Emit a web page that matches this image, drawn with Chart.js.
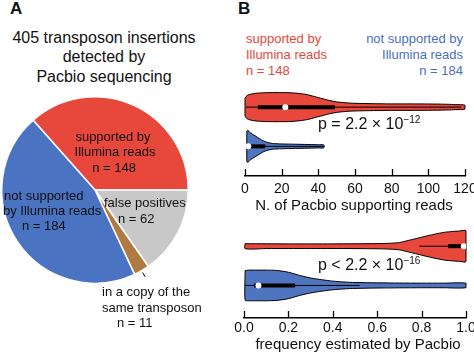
<!DOCTYPE html>
<html>
<head>
<meta charset="utf-8">
<title>Transposon insertions detected by Pacbio</title>
<script src="https://cdn.jsdelivr.net/npm/chart.js@4.4.1/dist/chart.umd.min.js"></script>
<style>
  body { margin: 0; width: 474px; height: 353px; overflow: hidden; background: #fff; position: relative;
         font-family: "Liberation Sans", Arial, Helvetica, sans-serif; color: #111; }
  canvas, .t { position: absolute; }
  .t { white-space: nowrap; line-height: 1; font-size: 13px; }
  .c { transform: translate(-50%, -50%); }
  .l { transform: translate(0, -50%); }
  .r { transform: translate(-100%, -50%); }
  .panel { font-weight: bold; font-size: 17px; }
  .title { font-size: 16px; }
  .axis { font-size: 15px; }
  .pval { font-size: 16px; }
  .pval sup { font-size: 10px; vertical-align: 6px; }
  .red { color: #e8473b; }
  .blue { color: #4a6fc0; }
</style>
</head>
<body>
<canvas id="pie" width="188" height="188" style="left:1px;top:96px"></canvas>
<canvas id="reads" width="260" height="118" style="left:230px;top:84px"></canvas>
<canvas id="freq" width="260" height="114" style="left:230px;top:224px"></canvas>

<div class="t l panel" style="left:10px;top:8px">A</div>
<div class="t l panel" style="left:238px;top:8px">B</div>

<div class="t c title" style="left:104px;top:38px">405 transposon insertions</div>
<div class="t c title" style="left:104px;top:57px">detected by</div>
<div class="t c title" style="left:104px;top:77px">Pacbio sequencing</div>

<div class="t c" style="left:113px;top:136px">supported by</div>
<div class="t c" style="left:115px;top:151px">Illumina reads</div>
<div class="t c" style="left:114px;top:167px">n = 148</div>
<div class="t l" style="left:4px;top:195px">not supported</div>
<div class="t l" style="left:3px;top:210px">by Illumina reads</div>
<div class="t l" style="left:22px;top:225px">n = 184</div>
<div class="t l" style="left:104px;top:202px">false positives</div>
<div class="t l" style="left:118px;top:218px">n = 62</div>
<div class="t l" style="left:102px;top:291px">in a copy of the</div>
<div class="t l" style="left:102px;top:307px">same transposon</div>
<div class="t l" style="left:117px;top:322px">n = 11</div>

<div class="t l red" style="left:246px;top:38px">supported by</div>
<div class="t l red" style="left:246px;top:54px">Illumina reads</div>
<div class="t l red" style="left:246px;top:70px">n = 148</div>
<div class="t r blue" style="left:463px;top:38px">not supported by</div>
<div class="t r blue" style="left:463px;top:54px">Illumina reads</div>
<div class="t r blue" style="left:463px;top:70px">n = 184</div>

<div class="t l pval" style="left:318px;top:123px">p = 2.2 × 10<sup>−12</sup></div>
<div class="t l pval" style="left:318px;top:264px">p &lt; 2.2 × 10<sup>−16</sup></div>

<div class="t c axis" style="left:354px;top:204px">N. of Pacbio supporting reads</div>
<div class="t c axis" style="left:358px;top:343px">frequency estimated by Pacbio</div>

<script>
// Panel A: the 405 insertions split by category
const pieCategories = ["supported by Illumina reads", "false positives", "in a copy of the same transposon", "not supported by Illumina reads"];
const pieCounts = [148, 62, 11, 184];
const pieColors = ["#e8473b", "#c8c8c8", "#b07a45", "#4a73c2"];

// Panel B, top: N. of Pacbio supporting reads
const readsTicks = [0, 20, 40, 60, 80, 100, 120];
const readsSupX = [0, 1, 3, 6, 10, 15, 20, 25, 30, 34, 38, 42, 46, 50, 55, 60, 70, 80, 90, 100, 110, 115, 120];
const readsSupDensity = [9, 12, 13.5, 14.5, 15, 15.2, 15.2, 15, 14.2, 13, 11, 9, 7, 5.5, 4.5, 4, 3.6, 3.4, 3.4, 3.3, 3, 2.6, 2];
const readsSupBox = [0.5, 7, 22, 49, 118]; // low, q1, median, q3, high
const readsNotX = [1, 1.5, 3, 5.5, 8, 10, 12.5, 15, 20, 25, 30, 35, 40, 43];
const readsNotDensity = [16, 16.7, 14, 11, 8, 5.7, 4, 3, 2.5, 2.3, 2.1, 1.9, 1.7, 1.5];
const readsNotBox = [1, 2, 1.8, 11, 43];

// Panel B, bottom: frequency estimated by Pacbio
const freqTicks = [0, 0.2, 0.4, 0.6, 0.8, 1.0];
const freqSupX = [0.005, 0.1, 0.2, 0.3, 0.4, 0.5, 0.6, 0.66, 0.7, 0.74, 0.78, 0.82, 0.86, 0.9, 0.94, 0.97, 1.0];
const freqSupDensity = [2.6, 2.5, 2.4, 2.4, 2.4, 2.5, 2.7, 3.1, 3.8, 6, 8.2, 10.5, 12.6, 14.4, 15.4, 15.8, 16];
const freqSupBox = [0.79, 0.92, 0.99, 0.98, 1.0];
const freqNotX = [0.005, 0.02, 0.05, 0.1, 0.15, 0.2, 0.25, 0.3, 0.35, 0.4, 0.45, 0.5, 0.6, 0.7, 0.8, 0.9, 1.0];
const freqNotDensity = [15.5, 16, 16, 16, 15.6, 13.8, 10.5, 7.8, 6, 4.5, 3.6, 3.1, 2.7, 2.5, 2.4, 2.4, 2.3];
const freqNotBox = [0.005, 0.045, 0.065, 0.23, 0.52];

const RED = "#e8473b", BLUE = "#5075c0";
const FONT = "'Liberation Sans', Arial, Helvetica, sans-serif";

// short black pointer from the small brown slice to its label
const leaderLine = {
  id: "leaderLine",
  afterDatasetsDraw(chart) {
    const arc = chart.getDatasetMeta(0).data[2];
    const mid = (arc.startAngle + arc.endAngle) / 2;
    const ctx = chart.ctx;
    ctx.save();
    ctx.strokeStyle = "#000";
    ctx.lineWidth = 1;
    ctx.beginPath();
    ctx.moveTo(arc.x + Math.cos(mid) * (arc.outerRadius + 2), arc.y + Math.sin(mid) * (arc.outerRadius + 2));
    ctx.lineTo(arc.x + Math.cos(mid) * (arc.outerRadius + 7), arc.y + Math.sin(mid) * (arc.outerRadius + 7));
    ctx.stroke();
    ctx.restore();
  }
};

const total = pieCounts.reduce((a, b) => a + b, 0);
new Chart(document.getElementById("pie"), {
  type: "pie",
  data: {
    labels: pieCategories,
    datasets: [{ data: pieCounts, backgroundColor: pieColors, borderColor: "#fff", borderWidth: 1.5 }]
  },
  options: {
    responsive: false, animation: false, events: [],
    // first slice ends at 3 o'clock
    rotation: 90 - pieCounts[0] / total * 360,
    plugins: { legend: { display: false }, tooltip: { enabled: false } }
  },
  plugins: [leaderLine]
});

// tick marks pointing up from the axis line
const innerTicks = {
  id: "innerTicks",
  afterDraw(chart) {
    const s = chart.scales.x, ctx = chart.ctx;
    ctx.save();
    ctx.strokeStyle = "#000";
    ctx.lineWidth = 1.3;
    s.ticks.forEach(t => {
      const px = Math.round(s.getPixelForValue(t.value)) + 0.5;
      ctx.beginPath();
      ctx.moveTo(px, s.top);
      ctx.lineTo(px, s.top - 7);
      ctx.stroke();
    });
    ctx.restore();
  }
};

function outline(xs, dens, center) {
  const upper = xs.map((x, i) => ({ x, y: center + dens[i] }));
  const lower = xs.map((x, i) => ({ x, y: center - dens[i] })).reverse();
  const pts = upper.concat(lower);
  pts.push(pts[0]);
  return pts;
}

function violinChart(id, violins, ticks, fmt, yMax, pad, tickPad) {
  const marks = [], shapes = [];
  violins.forEach(v => {
    const [lo, q1, med, q3, hi] = v.box;
    marks.push({ data: [{ x: med, y: v.center }], pointRadius: 3, pointBackgroundColor: "#fff", pointBorderWidth: 0 });
    marks.push({ data: [{ x: q1, y: v.center }, { x: q3, y: v.center }], showLine: true, pointRadius: 0,
                 borderColor: "#000", borderWidth: 4, borderCapStyle: "butt" });
    marks.push({ data: [{ x: lo, y: v.center }, { x: hi, y: v.center }], showLine: true, pointRadius: 0,
                 borderColor: "#000", borderWidth: 1 });
    shapes.push({ data: outline(v.x, v.density, v.center), showLine: true, pointRadius: 0, tension: 0.25,
                  fill: "shape", backgroundColor: v.color, borderColor: "#000", borderWidth: 1, clip: false });
  });
  return new Chart(document.getElementById(id), {
    type: "scatter",
    data: { datasets: marks.concat(shapes) },
    options: {
      responsive: false, animation: false, events: [],
      layout: { padding: pad },
      plugins: { legend: { display: false }, tooltip: { enabled: false } },
      scales: {
        x: {
          type: "linear", min: ticks[0], max: ticks[ticks.length - 1],
          afterBuildTicks: s => { s.ticks = ticks.map(value => ({ value })); },
          grid: { display: false, drawTicks: false },
          border: { display: true, color: "#000", width: 1.5 },
          ticks: { color: "#111", font: { family: FONT, size: 14 }, padding: tickPad,
                   autoSkip: false, maxRotation: 0, callback: fmt }
        },
        y: { display: false, min: 0, max: yMax }
      }
    },
    plugins: [innerTicks]
  });
}

violinChart("reads", [
  { x: readsSupX, density: readsSupDensity, box: readsSupBox, color: RED, center: 72 },
  { x: readsNotX, density: readsNotDensity, box: readsNotBox, color: BLUE, center: 31 }
], readsTicks, v => String(v), 92, { left: 15, right: 25, top: 0, bottom: 0 }, 4.6);

violinChart("freq", [
  { x: freqSupX, density: freqSupDensity, box: freqSupBox, color: RED, center: 75 },
  { x: freqNotX, density: freqNotDensity, box: freqNotBox, color: BLUE, center: 34 }
], freqTicks, v => Number(v).toFixed(1), 94, { left: 14, right: 24, top: 0, bottom: 0 }, 1.6);
</script>
</body>
</html>
